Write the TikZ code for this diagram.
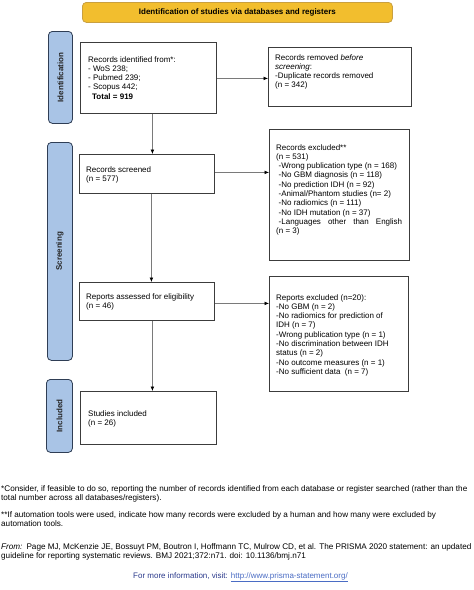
\documentclass[tikz,border=0pt]{standalone}
\usepackage{fontspec}
\setmainfont{Liberation Sans}
\usetikzlibrary{arrows.meta,calc}
\definecolor{bannerfill}{HTML}{F2BE2E}
\definecolor{bannerdraw}{HTML}{C9A040}
\definecolor{sidefill}{HTML}{A9C4E6}
\definecolor{sidedraw}{HTML}{2F3E55}
\definecolor{boxdraw}{HTML}{3C3C3C}
\definecolor{arrgray}{HTML}{7A7A7A}
\definecolor{navy}{HTML}{2B3A8C}
\definecolor{urlblue}{HTML}{4A6CC4}
\tikzset{
  flowbox/.style={draw=boxdraw, line width=0.8pt, rectangle, inner sep=0pt, anchor=north west},
  sidebar/.style={draw=sidedraw, fill=sidefill, line width=0.8pt, rounded corners=4pt, inner sep=0pt, anchor=north west},
  sidelabel/.style={rotate=90, font=\fontsize{8}{9}\selectfont\bfseries, text=black!85, inner sep=0pt},
  boxtext/.style={anchor=north west, inner sep=0pt, align=left, font=\fontsize{8}{9.3}\selectfont},
  foot/.style={anchor=base west, inner sep=0pt, font=\fontsize{8.15}{9}\selectfont},
  arr/.style={draw=arrgray, line width=0.6pt, -{Latex[length=4.5pt,width=3.8pt,black]}}
}
\begin{document}
\begin{tikzpicture}[x=1pt,y=-1pt]
\useasboundingbox (0,0) rectangle (474,590);
\fill[white] (0,0) rectangle (474,590);
% banner
\node[draw=bannerdraw, fill=bannerfill, line width=0.8pt, rounded corners=4pt, minimum width=310pt, minimum height=20pt, inner sep=0pt, anchor=north west,
  font=\fontsize{8}{9}\selectfont\bfseries] (banner) at (82,2) {Identification of studies via databases and registers};
% sidebars
\node[sidebar, minimum width=24pt, minimum height=92pt] (sidA) at (48,31) {};
\node[sidelabel] (labA) at (sidA.center) {Identification};
\node[sidebar, minimum width=25pt, minimum height=218pt] (sidB) at (47,142) {};
\node[sidelabel] (labB) at (sidB.center) {Screening};
\node[sidebar, minimum width=26pt, minimum height=73pt] (sidC) at (46,379) {};
\node[sidelabel] (labC) at (sidC.center) {Included};
% boxes
\node[flowbox, minimum width=136pt, minimum height=71pt] (b1) at (80,42) {};
\node[boxtext] (t1) at (88,56) {Records identified from*:\\- WoS 238;\\- Pubmed 239;\\- Scopus 442;\\\hspace*{4pt}\textbf{Total = 919}};
\node[flowbox, minimum width=143pt, minimum height=59pt] (b2) at (268,47) {};
\node[boxtext] (t2) at (275,54) {Records removed \textit{before}\\\textit{screening}:\\-Duplicate records removed\\(n = 342)};
\node[flowbox, minimum width=135pt, minimum height=39pt] (b3) at (79,154) {};
\node[boxtext] (t3) at (86,166) {Records screened\\(n = 577)};
\node[flowbox, minimum width=140pt, minimum height=131pt] (b4) at (269,129) {};
\node[boxtext] (t4) at (276,144) {Records excluded**\\(n = 531)\\\hspace*{2.5pt}-Wrong publication type (n = 168)\\\hspace*{2.5pt}-No GBM diagnosis (n = 118)\\\hspace*{2.5pt}-No prediction IDH (n = 92)\\\hspace*{2.5pt}-Animal/Phantom studies (n= 2)\\\hspace*{2.5pt}-No radiomics (n = 111)\\\hspace*{2.5pt}-No IDH mutation (n = 37)\\\makebox[126pt][s]{\hspace*{2.5pt}-Languages other than English}\\(n = 3)};
\node[flowbox, minimum width=135pt, minimum height=38pt] (b5) at (79,282) {};
\node[boxtext] (t5) at (86,293) {Reports assessed for eligibility\\(n = 46)};
\node[flowbox, minimum width=139pt, minimum height=115pt] (b6) at (269,276) {};
\node[boxtext] (t6) at (276,294) {Reports excluded (n=20):\\-No GBM (n = 2)\\-No radiomics for prediction of\\IDH (n = 7)\\-Wrong publication type (n = 1)\\-No discrimination between IDH\\status (n = 2)\\-No outcome measures (n = 1)\\-No sufficient data~ (n = 7)};
\node[flowbox, minimum width=136pt, minimum height=53pt] (b7) at (80,391) {};
\node[boxtext] (t7) at (88,410) {Studies included\\(n = 26)};
% arrows
\draw[arr] ([yshift=-0.5pt]b1.east) -- ([yshift=-0.5pt]b1.east -| b2.west);
\draw[arr] ([xshift=4pt]b1.south) -- ([xshift=4pt]b1.south |- b3.north);
\draw[arr] ([yshift=1.5pt]b3.east) -- ([yshift=1.5pt]b3.east -| b4.west);
\draw[arr] ([xshift=4.5pt]b3.south) -- ([xshift=4.5pt]b3.south |- b5.north);
\draw[arr] ([yshift=-2pt]b5.east) -- ([yshift=-2pt]b5.east -| b6.west);
\draw[arr] ([xshift=5.5pt]b5.south) -- ([xshift=5.5pt]b5.south |- b7.north);
% footnotes
\node[foot] (f1) at (1,491) {*Consider, if feasible to do so, reporting the number of records identified from each database or register searched (rather than the};
\node[foot] (f2) at (1,500.5) {total number across all databases/registers).};
\node[foot] (f3) at (1,517) {**If automation tools were used, indicate how many records were excluded by a human and how many were excluded by};
\node[foot] (f4) at (1,526) {automation tools.};
\node[foot] (f5) at (1,549) {\textit{From:}\enspace Page MJ, McKenzie JE, Bossuyt PM, Boutron I, Hoffmann TC, Mulrow CD, et al. The PRISMA 2020 statement: an updated};
\node[foot] (f6) at (1,558) {guideline for reporting systematic reviews. BMJ 2021;372:n71. doi: 10.1136/bmj.n71};
\node[foot, font=\fontsize{8}{9}\selectfont, text=navy] (f7) at (133,578) {For more information, visit: \textcolor{urlblue}{\underline{http://www.prisma-statement.org/}}};
\end{tikzpicture}
\end{document}
